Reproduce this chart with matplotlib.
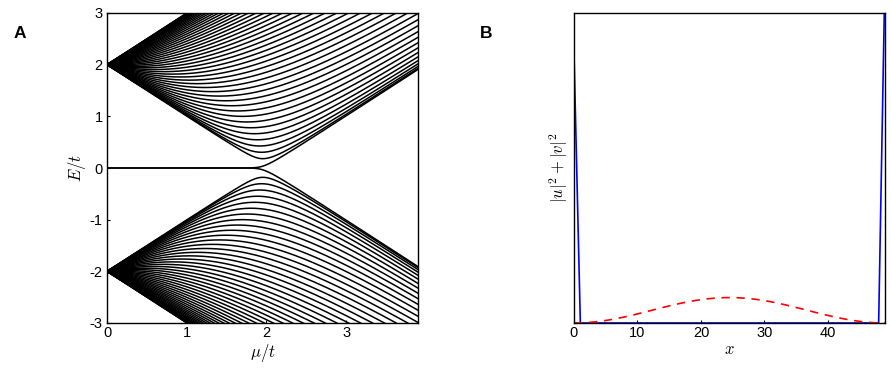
import numpy as np
import matplotlib
matplotlib.use("Agg")
import matplotlib.pyplot as plt

plt.rcParams['font.family'] = ['Liberation Sans', 'DejaVu Sans']
plt.rcParams['mathtext.fontset'] = 'cm'
plt.rcParams['axes.unicode_minus'] = False

# ---- Panel A: Kitaev chain BdG spectrum parameters ----
n_sites = 50
hopping_t = 1.0
pairing_delta = 1.0
mu_values = np.linspace(0.0, 3.9, 400)
energy_ticks = [-3, -2, -1, 0, 1, 2, 3]
mu_ticks = [0, 1, 2, 3]

# ---- Panel B: wavefunction weights ----
site_x = list(range(50))
edge_mode = [0.435] + [0.0] * 48 + [0.565]
bulk_mode = [0.0, 0.00017, 0.00067, 0.0015, 0.00264, 0.00407, 0.00577, 0.00772,
             0.00988, 0.01221, 0.01467, 0.01723, 0.01984, 0.02247, 0.02506,
             0.02759, 0.02998, 0.03223, 0.03428, 0.03611, 0.03768, 0.03897,
             0.03996, 0.04062, 0.04096, 0.04096, 0.04062, 0.03996, 0.03897,
             0.03768, 0.03611, 0.03428, 0.03223, 0.02998, 0.02759, 0.02506,
             0.02247, 0.01984, 0.01723, 0.01467, 0.01221, 0.00988, 0.00772,
             0.00577, 0.00407, 0.00264, 0.0015, 0.00067, 0.00017, 0.0]
x_ticks = [0, 10, 20, 30, 40]


def bdg_energies(mu):
    N = n_sites
    h = -mu * np.eye(N)
    D = np.zeros((N, N))
    for i in range(N - 1):
        h[i, i + 1] = h[i + 1, i] = -hopping_t
        D[i, i + 1] = pairing_delta
        D[i + 1, i] = -pairing_delta
    H = np.block([[h, D], [D.T, -h.T]])
    return np.linalg.eigvalsh(H)


spectrum = np.array([bdg_energies(m) for m in mu_values])

fig = plt.figure(figsize=(8.91, 3.70), dpi=100)
W, Hh = 891, 370
axA = fig.add_axes([107 / W, 1 - 323 / Hh, 311 / W, 310 / Hh])
axB = fig.add_axes([574 / W, 1 - 323 / Hh, 311 / W, 310 / Hh])

for j in range(spectrum.shape[1]):
    axA.plot(mu_values, spectrum[:, j], color='black', lw=1.1)
axA.set_xlim(0, 3.9)
axA.set_ylim(-3, 3)
axA.set_xticks(mu_ticks)
axA.set_yticks(energy_ticks)
axA.set_xlabel(r'$\mu/t$', fontsize=12, labelpad=1)
axA.set_ylabel(r'$E/t$', fontsize=12, labelpad=1)

axB.plot(site_x, edge_mode, color='blue', lw=1.2)
axB.plot(site_x, bulk_mode, color='red', lw=1.2, ls=(0, (5, 4)))
axB.set_xlim(0, 49)
axB.set_ylim(0, 0.5)
axB.set_xticks(x_ticks)
axB.set_yticks([])
axB.set_xlabel(r'$x$', fontsize=12, labelpad=1)
axB.set_ylabel(r'$|u|^2+|v|^2$', fontsize=12, labelpad=3)

for ax in (axA, axB):
    ax.tick_params(direction='in', length=2, labelsize=10.5)
    ax.tick_params(axis='x', pad=2.5)
    ax.tick_params(axis='y', pad=3)
    for s in ax.spines.values():
        s.set_linewidth(1.0)

fig.text(20 / W, 1 - 34 / Hh, 'A', fontsize=12.5, fontweight='bold', ha='center', va='center')
fig.text(486 / W, 1 - 34 / Hh, 'B', fontsize=12.5, fontweight='bold', ha='center', va='center')

fig.savefig('out.png', dpi=100)
